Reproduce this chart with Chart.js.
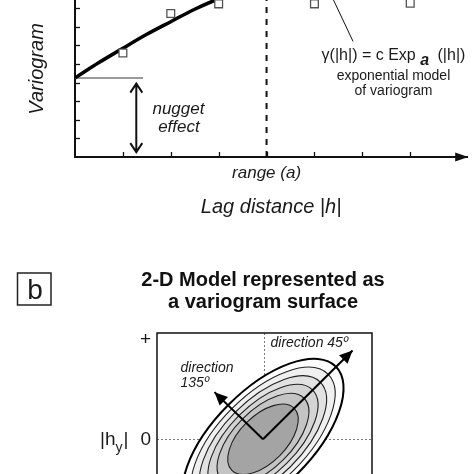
<!DOCTYPE html>
<html>
<head>
<meta charset="utf-8">
<script src="https://cdn.jsdelivr.net/npm/chart.js@4.4.1/dist/chart.umd.min.js"></script>
<style>
  html, body { margin: 0; padding: 0; background: #fff; }
  body { width: 474px; height: 474px; overflow: hidden; position: relative; }
  canvas { position: absolute; left: 0; }
  #chart-variogram { top: -26px; }
  #chart-surface { top: 240px; }
</style>
</head>
<body>
<canvas id="chart-variogram" width="474" height="250"></canvas>
<canvas id="chart-surface" width="474" height="320"></canvas>
<script>
// panel a: 1-D variogram
const lagH = [0, 0.5, 1, 1.5, 2, 2.5, 3, 4, 5, 6, 7, 8];
const gammaModel = [4.25, 5.08, 5.85, 6.6, 7.28, 7.95, 8.5, 9.2, 9.7, 9.95, 10.1, 10.2];
const lagObs = [1, 2, 3, 5, 7];
const gammaObs = [5.6, 7.72, 8.24, 8.24, 8.27];
const lagTicks = [1, 2, 3, 4, 5, 6, 7];
const gammaTicks = [1, 2, 3, 4, 5, 6, 7, 8];
const nugget = 4.25;
const rangeA = 4;

// panel b: variogram surface (contours of a 45 deg anisotropic model)
const contourMajor = [0.958, 0.856, 0.753, 0.651, 0.540, 0.409];
const contourMinor = [0.456, 0.409, 0.363, 0.316, 0.270, 0.219];
const surfaceCenter = [-0.014, 0.006];
const dir45 = [0.819, 0.837];
const dir135 = [-0.465, 0.447];
const hyTicks = [-1, 0, 1];
const hyTickLabels = ['\u2212', '0', '+'];

const FONT = '"Liberation Sans", Arial, sans-serif';
const INK = '#1a1a1a';

function arrowHead(ctx, x0, y0, x1, y1, len, half) {
    const a = Math.atan2(y1 - y0, x1 - x0);
    ctx.beginPath();
    ctx.moveTo(x1, y1);
    ctx.lineTo(x1 - len * Math.cos(a) + half * Math.sin(a), y1 - len * Math.sin(a) - half * Math.cos(a));
    ctx.lineTo(x1 - len * Math.cos(a) - half * Math.sin(a), y1 - len * Math.sin(a) + half * Math.cos(a));
    ctx.closePath();
    ctx.fill();
}

const variogramDecor = {
    id: 'variogramDecor',
    afterDraw(chart) {
        const {ctx, chartArea, scales: {x, y}} = chart;
        ctx.save();
        ctx.strokeStyle = '#111';
        ctx.fillStyle = '#111';
        ctx.lineWidth = 1.3;
        // inward tick marks
        lagTicks.forEach(function (v) {
            const px = Math.round(x.getPixelForValue(v)) + 0.5;
            ctx.beginPath();
            ctx.moveTo(px, chartArea.bottom);
            ctx.lineTo(px, chartArea.bottom - 5);
            ctx.stroke();
        });
        gammaTicks.forEach(function (v) {
            const py = Math.round(y.getPixelForValue(v)) + 0.5;
            ctx.beginPath();
            ctx.moveTo(chartArea.left, py);
            ctx.lineTo(chartArea.left + 5, py);
            ctx.stroke();
        });
        // arrow at the end of the lag axis
        const ay = y.getPixelForValue(0);
        arrowHead(ctx, chartArea.left, ay, chartArea.right + 1, ay, 13, 4.5);

        // nugget double arrow
        const nx = x.getPixelForValue(1.28);
        const nTop = y.getPixelForValue(3.95);
        const nBot = y.getPixelForValue(0.26);
        ctx.lineWidth = 2;
        ctx.beginPath();
        ctx.moveTo(nx, nTop);
        ctx.lineTo(nx, nBot);
        ctx.moveTo(nx - 6, nTop + 9);
        ctx.lineTo(nx, nTop);
        ctx.lineTo(nx + 6, nTop + 9);
        ctx.moveTo(nx - 6, nBot - 9);
        ctx.lineTo(nx, nBot);
        ctx.lineTo(nx + 6, nBot - 9);
        ctx.stroke();

        // text
        ctx.fillStyle = INK;
        ctx.textBaseline = 'middle';
        ctx.textAlign = 'center';
        ctx.font = 'italic 17px ' + FONT;
        ctx.fillText('nugget', x.getPixelForValue(2.16), y.getPixelForValue(2.59));
        ctx.fillText('effect', x.getPixelForValue(2.17), y.getPixelForValue(1.61));

        ctx.font = '14px ' + FONT;
        ctx.fillText('exponential model', x.getPixelForValue(6.65), y.getPixelForValue(4.35));
        ctx.fillText('of variogram', x.getPixelForValue(6.65), y.getPixelForValue(3.52));

        // formula
        const fy = y.getPixelForValue(5.44);
        let fx = x.getPixelForValue(5.15);
        ctx.textAlign = 'left';
        ctx.font = '16px ' + FONT;
        const part1 = '\u03b3(|h|) = c Exp ';
        ctx.fillText(part1, fx, fy);
        fx += ctx.measureText(part1).width;
        ctx.font = 'italic bold 16px ' + FONT;
        ctx.fillText('a', fx, fy + 5);
        fx += ctx.measureText('a ').width + 4;
        ctx.font = '16px ' + FONT;
        ctx.fillText('(|h|)', fx, fy);
        ctx.restore();
    }
};

const ctxVariogram = document.getElementById('chart-variogram').getContext('2d');
const chartVariogram = new Chart(ctxVariogram, {
    type: 'scatter',
    data: {
        datasets: [
            {
                label: 'experimental variogram',
                data: lagObs.map(function (h, i) { return {x: h, y: gammaObs[i]}; }),
                pointStyle: 'rect',
                pointRadius: 5.5,
                borderColor: '#555',
                backgroundColor: '#fff',
                borderWidth: 1.3
            },
            {
                type: 'line',
                label: 'exponential model',
                data: lagH.map(function (h, i) { return {x: h, y: gammaModel[i]}; }),
                borderColor: '#000',
                borderWidth: 3.5,
                cubicInterpolationMode: 'monotone',
                pointRadius: 0,
                fill: false
            },
            {
                type: 'line',
                label: 'leader',
                data: [{x: 5.806, y: 6.22}, {x: 5.209, y: 9.48}],
                borderColor: '#111',
                borderWidth: 1,
                pointRadius: 0
            },
            {
                type: 'line',
                label: 'range',
                data: [{x: rangeA, y: 0}, {x: rangeA, y: 9.48}],
                borderColor: '#111',
                borderWidth: 2,
                borderDash: [6, 6],
                pointRadius: 0
            },
            {
                type: 'line',
                label: 'nugget',
                data: [{x: 0, y: nugget}, {x: 1.42, y: nugget}],
                borderColor: '#9a9a9a',
                borderWidth: 2,
                pointRadius: 0
            }
        ]
    },
    options: {
        responsive: false,
        animation: false,
        layout: {padding: {left: 0, right: 1, top: 0, bottom: 5}},
        plugins: {legend: {display: false}, tooltip: {enabled: false}},
        scales: {
            x: {
                type: 'linear',
                min: 0,
                max: 8.19,
                border: {color: '#111', width: 2},
                grid: {drawOnChartArea: false, drawTicks: false},
                ticks: {
                    stepSize: 1,
                    autoSkip: false,
                    maxRotation: 0,
                    minRotation: 0,
                    padding: 6,
                    color: INK,
                    font: {family: FONT, size: 17, style: 'italic'},
                    callback: function (v) { return v === rangeA ? 'range (a)' : ''; }
                },
                title: {
                    display: true,
                    text: 'Lag distance |h|',
                    color: INK,
                    font: {family: FONT, size: 20, style: 'italic'},
                    padding: {top: 5.6, bottom: 0}
                }
            },
            y: {
                type: 'linear',
                min: 0,
                max: 9.48,
                border: {color: '#111', width: 2},
                grid: {drawOnChartArea: false, drawTicks: false},
                ticks: {display: false},
                title: {
                    display: true,
                    text: 'Variogram',
                    color: INK,
                    font: {family: FONT, size: 20, style: 'italic'},
                    padding: {top: 25, bottom: 26}
                }
            }
        }
    },
    plugins: [variogramDecor]
});

const contourFills = ['#ffffff', '#f0f0f0', '#e2e2e2', '#d4d4d4', '#c4c4c4', '#a4a4a4'];

const surfaceDecor = {
    id: 'surfaceDecor',
    beforeDatasetsDraw(chart) {
        const {ctx, chartArea: a, scales: {x, y}} = chart;
        const cx = x.getPixelForValue(surfaceCenter[0]);
        const cy = y.getPixelForValue(surfaceCenter[1]);
        const ux = x.getPixelForValue(1) - x.getPixelForValue(0);
        const uy = y.getPixelForValue(0) - y.getPixelForValue(1);
        ctx.save();
        ctx.beginPath();
        ctx.rect(a.left, a.top, a.right - a.left, a.bottom - a.top);
        ctx.clip();
        contourMajor.forEach(function (m, i) {
            ctx.beginPath();
            ctx.ellipse(cx, cy, m * ux, contourMinor[i] * uy, -Math.PI / 4, 0, 2 * Math.PI);
            ctx.fillStyle = contourFills[i];
            ctx.fill();
            ctx.lineWidth = i === 0 ? 2 : 1.1;
            ctx.strokeStyle = i === 0 ? '#000' : '#222';
            ctx.stroke();
        });
        ctx.restore();
    },
    afterDatasetsDraw(chart) {
        const {ctx, scales: {x, y}} = chart;
        const ox = x.getPixelForValue(surfaceCenter[0]);
        const oy = y.getPixelForValue(surfaceCenter[1]);
        ctx.save();
        ctx.fillStyle = '#000';
        [dir45, dir135].forEach(function (d) {
            arrowHead(ctx, ox, oy, x.getPixelForValue(d[0]), y.getPixelForValue(d[1]), 13, 6);
        });
        ctx.restore();
    },
    afterDraw(chart) {
        const {ctx, chartArea: a, scales: {x, y}} = chart;
        ctx.save();
        // frame of the surface
        ctx.strokeStyle = '#111';
        ctx.lineWidth = 1.5;
        ctx.strokeRect(a.left, a.top, a.right - a.left, a.bottom - a.top);

        ctx.fillStyle = INK;
        ctx.textBaseline = 'middle';
        ctx.textAlign = 'left';
        ctx.font = 'italic 14px ' + FONT;
        ctx.fillText('direction 45\u00ba', x.getPixelForValue(0.056), y.getPixelForValue(0.902));
        ctx.fillText('direction', x.getPixelForValue(-0.781), y.getPixelForValue(0.67));
        ctx.fillText('135\u00ba', x.getPixelForValue(-0.781), y.getPixelForValue(0.53));

        // |hy| axis name
        const hy = y.getPixelForValue(0);
        let hx = a.left - 57;
        ctx.font = '19px ' + FONT;
        ctx.fillText('|h', hx, hy);
        hx += ctx.measureText('|h').width;
        ctx.font = '14px ' + FONT;
        ctx.fillText('y', hx, hy + 8);
        hx += ctx.measureText('y').width + 1;
        ctx.font = '19px ' + FONT;
        ctx.fillText('|', hx, hy);

        // panel letter
        ctx.lineWidth = 1.5;
        ctx.strokeStyle = '#222';
        ctx.strokeRect(17.5, 33, 33.5, 32);
        ctx.textAlign = 'center';
        ctx.textBaseline = 'alphabetic';
        ctx.font = '28px ' + FONT;
        ctx.fillText('b', 35, 59);
        ctx.restore();
    }
};

const ctxSurface = document.getElementById('chart-surface').getContext('2d');
const chartSurface = new Chart(ctxSurface, {
    type: 'scatter',
    data: {
        datasets: [
            {
                type: 'line',
                label: 'direction 45',
                data: [{x: surfaceCenter[0], y: surfaceCenter[1]}, {x: dir45[0], y: dir45[1]}],
                borderColor: '#000',
                borderWidth: 2,
                pointRadius: 0
            },
            {
                type: 'line',
                label: 'direction 135',
                data: [{x: surfaceCenter[0], y: surfaceCenter[1]}, {x: dir135[0], y: dir135[1]}],
                borderColor: '#000',
                borderWidth: 2,
                pointRadius: 0
            }
        ]
    },
    options: {
        responsive: false,
        animation: false,
        layout: {padding: {left: 52, right: 0, top: 0, bottom: 12}},
        plugins: {
            legend: {display: false},
            tooltip: {enabled: false},
            title: {
                display: true,
                text: ['2-D Model represented as', 'a variogram surface'],
                color: '#111',
                font: {family: FONT, size: 20, weight: 'bold', lineHeight: 22 / 20},
                padding: {top: 29, bottom: 20}
            }
        },
        scales: {
            x: {
                type: 'linear',
                min: -1,
                max: 1,
                border: {display: false, dash: [2, 2]},
                grid: {
                    drawTicks: false,
                    lineWidth: 1,
                    color: function (c) { return c.tick && c.tick.value === 0 ? '#7a7a7a' : 'rgba(0,0,0,0)'; }
                },
                ticks: {display: false, stepSize: 1}
            },
            y: {
                type: 'linear',
                min: -1,
                max: 1,
                border: {display: false, dash: [2, 2]},
                grid: {
                    drawTicks: false,
                    lineWidth: 1,
                    color: function (c) { return c.tick && c.tick.value === 0 ? '#7a7a7a' : 'rgba(0,0,0,0)'; }
                },
                ticks: {
                    stepSize: 1,
                    padding: 6,
                    color: INK,
                    font: {family: FONT, size: 19, lineHeight: 0.75},
                    callback: function (v) {
                        const label = hyTickLabels[hyTicks.indexOf(v)];
                        return v === 1 ? ['', label] : label;
                    }
                },
                afterFit: function (scale) { scale.width = 105; }
            },
            yRight: {
                type: 'linear',
                position: 'right',
                min: -1,
                max: 1,
                border: {display: false},
                grid: {display: false},
                ticks: {display: false},
                afterFit: function (scale) { scale.width = 102; }
            }
        }
    },
    plugins: [surfaceDecor]
});
</script>
</body>
</html>
